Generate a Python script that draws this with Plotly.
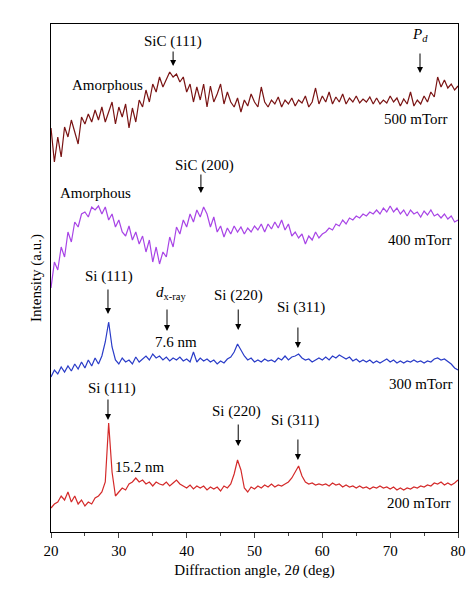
import numpy as np
import plotly.graph_objects as go

# 2theta grid (deg), 0.5 deg step
theta = np.arange(20, 80.01, 0.5)

i500 = [404, 370, 395, 375, 405, 395, 412, 400, 388, 415, 408, 418, 410, 422, 412, 425, 410, 420, 430, 408,
        425, 415, 428, 404, 424, 410, 432, 425, 442, 430, 448, 440, 455, 445, 452, 460, 455, 458, 450, 455,
        440, 448, 430, 445, 432, 448, 425, 446, 430, 438, 448, 428, 440, 430, 425, 434, 420, 432, 426, 438,
        430, 425, 445, 430, 425, 432, 428, 435, 425, 432, 428, 434, 426, 432, 429, 436, 425, 430, 444, 428,
        436, 430, 440, 428, 435, 430, 438, 428, 434, 430, 436, 429, 433, 430, 435, 428, 434, 428, 432, 429,
        436, 430, 434, 426, 433, 428, 440, 426, 432, 428, 436, 430, 440, 435, 455, 445, 452, 444, 448, 442, 446]
i400 = [244, 270, 262, 285, 275, 300, 290, 310, 305, 318, 320, 315, 325, 322, 326, 318, 325, 312, 318, 305,
        312, 300, 296, 306, 292, 300, 288, 296, 280, 292, 270, 285, 268, 280, 275, 295, 285, 305, 298, 312,
        305, 318, 310, 322, 315, 325, 318, 305, 315, 300, 306, 295, 304, 298, 306, 300, 305, 298, 304, 300,
        306, 302, 308, 300, 308, 303, 310, 304, 312, 302, 308, 296, 300, 294, 298, 288, 296, 292, 300, 294,
        298, 300, 304, 302, 308, 306, 312, 308, 314, 312, 316, 314, 318, 316, 320, 318, 322, 318, 324, 320,
        326, 320, 324, 318, 322, 316, 322, 318, 320, 315, 321, 317, 322, 316, 318, 314, 318, 313, 316, 310, 312]
i300 = [155, 162, 158, 165, 160, 166, 161, 168, 163, 170, 164, 172, 166, 174, 168, 176, 190, 210, 185, 172,
        168, 174, 170, 172, 168, 175, 170, 173, 176, 172, 178, 174, 176, 172, 175, 171, 174, 172, 175, 171,
        173, 170, 180, 170, 174, 171, 173, 170, 172, 168, 171, 169, 173, 175, 180, 188, 182, 176, 172, 174,
        170, 172, 170, 173, 171, 172, 170, 174, 172, 176, 172, 175, 176, 178, 174, 172, 173, 170, 172, 174,
        172, 175, 172, 176, 174, 177, 175, 173, 175, 171, 173, 170, 172, 170, 172, 169, 171, 169, 171, 173,
        170, 172, 169, 171, 169, 171, 170, 172, 170, 171, 169, 171, 170, 173, 174, 172, 173, 170, 168, 164, 162]
i200 = [24, 28, 30, 36, 32, 40, 30, 36, 28, 32, 26, 30, 28, 34, 36, 40, 50, 109, 60, 36,
        40, 44, 42, 48, 50, 54, 50, 52, 48, 50, 46, 50, 48, 47, 50, 46, 49, 52, 48, 46,
        44, 47, 43, 46, 44, 46, 42, 45, 43, 45, 41, 46, 44, 48, 58, 72, 62, 44, 40, 45,
        43, 46, 44, 47, 45, 48, 45, 47, 46, 48, 50, 54, 60, 66, 56, 50, 48, 49, 47, 48,
        47, 48, 46, 49, 47, 48, 45, 47, 45, 46, 44, 46, 44, 45, 43, 45, 44, 46, 44, 45,
        43, 45, 42, 44, 42, 44, 43, 45, 44, 46, 45, 47, 46, 49, 48, 50, 47, 49, 47, 49, 52]

series = [("500 mTorr", i500, "#7a1414"), ("400 mTorr", i400, "#a845e6"),
          ("300 mTorr", i300, "#2a3cc8"), ("200 mTorr", i200, "#d42a2a")]

fig = go.Figure()
for name, vals, col in series:
    fig.add_trace(go.Scatter(x=theta[:len(vals)], y=vals, mode="lines", name=name,
                             line=dict(color=col, width=1.2)))

# text labels (x deg, y a.u., text)
labels = [(38.0, 491, "SiC (111)"), (74.4, 497, "<i>P<sub>d</sub></i>"), (28.4, 447, "Amorphous"),
          (73.8, 413, "500 mTorr"), (42.6, 367, "SiC (200)"), (26.6, 339, "Amorphous"),
          (74.4, 292, "400 mTorr"), (28.6, 256, "Si (111)"), (37.7, 239, "<i>d</i><sub>x-ray</sub>"),
          (38.4, 190, "7.6 nm"), (47.7, 237, "Si (220)"), (56.9, 225, "Si (311)"),
          (74.6, 148, "300 mTorr"), (29.0, 144, "Si (111)"), (33.1, 65, "15.2 nm"),
          (47.4, 121, "Si (220)"), (56.0, 112, "Si (311)"), (74.3, 29, "200 mTorr")]
for x, y, t in labels:
    fig.add_annotation(x=x, y=y, text=t, showarrow=False, font=dict(size=15))

# arrows (x, start, end)
arrows = [(38.0, 482, 466), (74.4, 480, 459), (42.1, 359, 339), (28.4, 244, 218), (37.1, 224, 201),
          (47.6, 224, 202), (56.4, 206, 184), (28.4, 134, 112), (47.6, 109, 86), (56.4, 94, 72)]
for x, y0, y1 in arrows:
    fig.add_annotation(x=x, y=y1, ax=x, ay=y0, axref="x", ayref="y", text="", showarrow=True,
                       arrowhead=2, arrowsize=1.2, arrowwidth=1, arrowcolor="black")

fig.update_layout(
    width=474, height=596, paper_bgcolor="white", plot_bgcolor="white", showlegend=False,
    margin=dict(l=43, r=24, t=16, b=72),
    font=dict(family="Liberation Serif", size=15, color="black"),
)
fig.update_xaxes(range=[20, 80], dtick=10, ticks="outside", ticklen=5, showgrid=False, zeroline=False,
                 showline=True, linecolor="black", mirror=True, tickfont=dict(size=15),
                 minor=dict(dtick=5, ticks="outside", ticklen=3),
                 title=dict(text="Diffraction angle, 2<i>θ</i> (deg)", font=dict(size=15), standoff=6))
fig.update_yaxes(range=[0, 508], showticklabels=False, ticks="", showgrid=False, zeroline=False,
                 showline=True, linecolor="black", mirror=True,
                 title=dict(text="Intensity (a.u.)", font=dict(size=15), standoff=4))

fig.write_html("out.html")
